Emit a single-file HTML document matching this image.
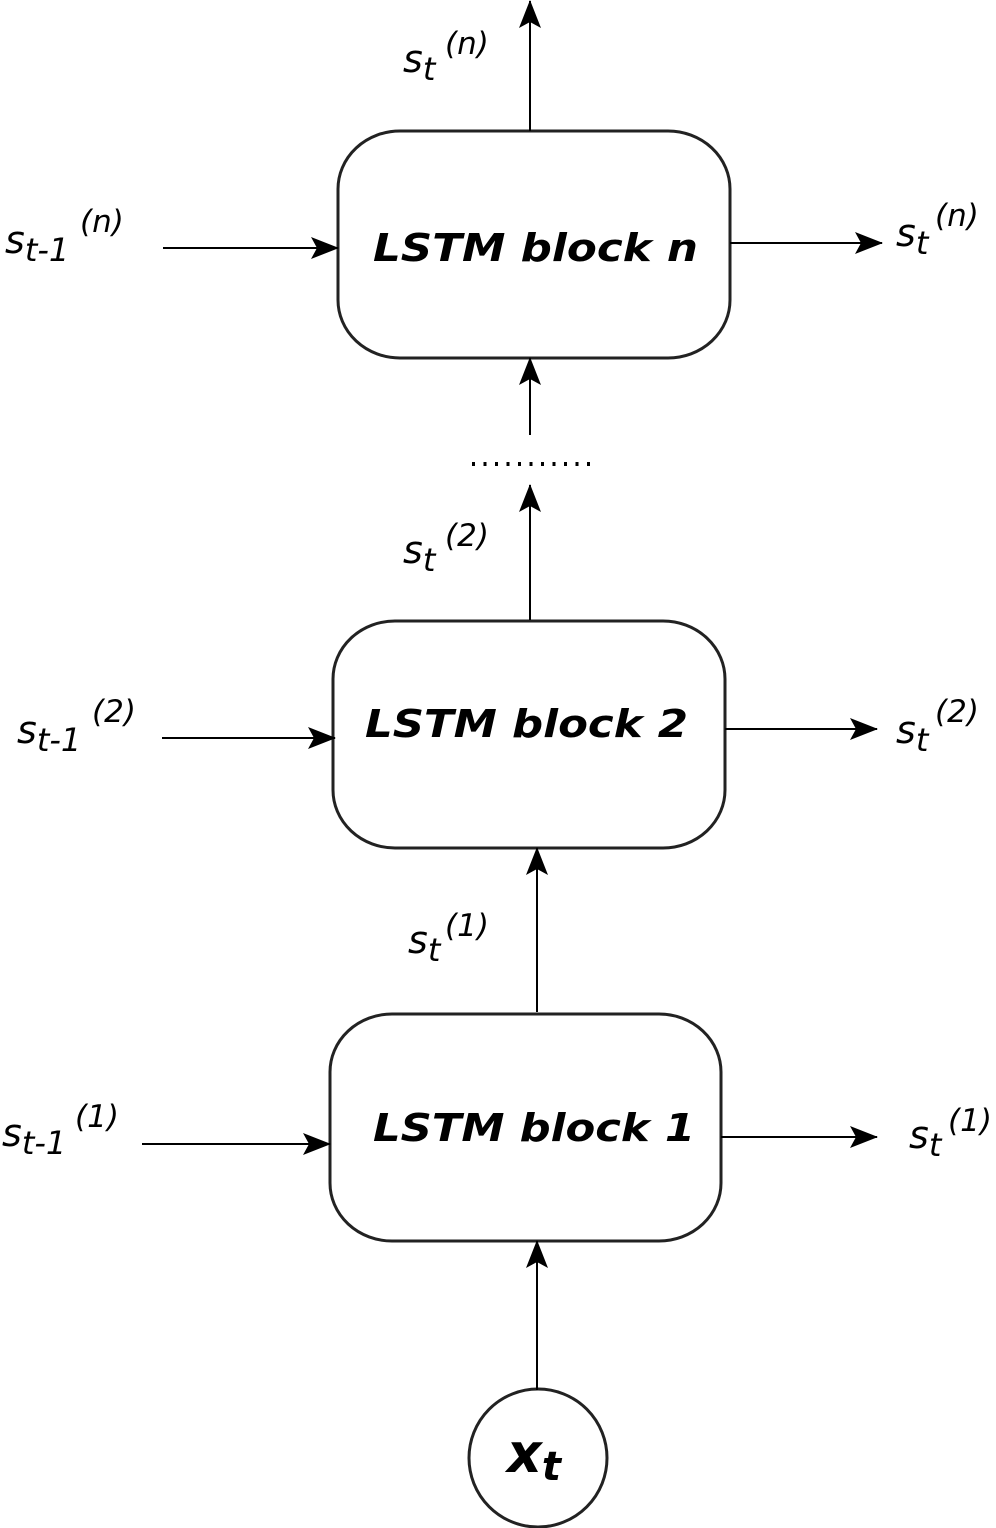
<!DOCTYPE html>
<html><head><meta charset="utf-8"><style>html,body{margin:0;padding:0;background:#fff}svg{display:block}</style></head>
<body>
<svg width="996" height="1528" viewBox="0 0 996 1528" xmlns="http://www.w3.org/2000/svg" font-family="DejaVu Sans, Liberation Sans, sans-serif">
<defs>
<marker id="b" markerWidth="28" markerHeight="22" refX="27" refY="11" orient="auto" markerUnits="userSpaceOnUse" viewBox="0 0 28 22">
<path d="M0,0 L28,11 L0,22 L6,11 z" fill="#000"/></marker>
</defs>
<g fill="#fff" stroke="#222" stroke-width="3">
<rect x="338" y="131" width="392" height="227" rx="62" ry="58"/>
<rect x="333" y="621" width="392" height="227" rx="62" ry="58"/>
<rect x="330" y="1014" width="391" height="227" rx="62" ry="58"/>
<circle cx="538" cy="1458" r="69"/>
</g>
<g stroke="#000" stroke-width="2" fill="none" marker-end="url(#b)">
<line x1="530" y1="131" x2="530" y2="1"/>
<line x1="163" y1="248" x2="338" y2="248"/>
<line x1="730" y1="243" x2="882" y2="243"/>
<line x1="530" y1="435" x2="530" y2="358"/>
<line x1="530" y1="620" x2="530" y2="485"/>
<line x1="162" y1="738" x2="335" y2="738"/>
<line x1="725" y1="729" x2="877" y2="729"/>
<line x1="537" y1="1012" x2="537" y2="848"/>
<line x1="142" y1="1144" x2="330" y2="1144"/>
<line x1="721" y1="1137" x2="877" y2="1137"/>
<line x1="537" y1="1390" x2="537" y2="1241"/>
</g>
<line x1="472" y1="464" x2="594" y2="464" stroke="#000" stroke-width="4" stroke-dasharray="3,8.5"/>
<g font-style="italic" font-weight="bold" font-size="38" fill="#000">
<text x="373" y="261" textLength="325" lengthAdjust="spacingAndGlyphs">LSTM block n</text>
<text x="365" y="737" textLength="323" lengthAdjust="spacingAndGlyphs">LSTM block 2</text>
<text x="373" y="1141" textLength="322" lengthAdjust="spacingAndGlyphs">LSTM block 1</text>
<text x="507" y="1472" font-size="54">x<tspan font-size="40" dy="8">t</tspan></text>
</g>
<g font-style="italic" font-size="38" fill="#000">
<text x="403" y="72">s<tspan font-size="32" dy="8">t</tspan></text><text x="445" y="54" font-size="31">(n)</text>
<text x="5" y="253">s<tspan font-size="32" dy="8">t-1</tspan></text><text x="80" y="232" font-size="31">(n)</text>
<text x="896" y="246">s<tspan font-size="32" dy="8">t</tspan></text><text x="935" y="226" font-size="31">(n)</text>
<text x="403" y="563">s<tspan font-size="32" dy="8">t</tspan></text><text x="445" y="546" font-size="31">(2)</text>
<text x="17" y="743">s<tspan font-size="32" dy="8">t-1</tspan></text><text x="92" y="722" font-size="31">(2)</text>
<text x="896" y="743">s<tspan font-size="32" dy="8">t</tspan></text><text x="935" y="722" font-size="31">(2)</text>
<text x="408" y="953">s<tspan font-size="32" dy="8">t</tspan></text><text x="445" y="936" font-size="31">(1)</text>
<text x="2" y="1146">s<tspan font-size="32" dy="8">t-1</tspan></text><text x="75" y="1127" font-size="31">(1)</text>
<text x="909" y="1148">s<tspan font-size="32" dy="8">t</tspan></text><text x="948" y="1131" font-size="31">(1)</text>
</g>
</svg>
</body></html>
